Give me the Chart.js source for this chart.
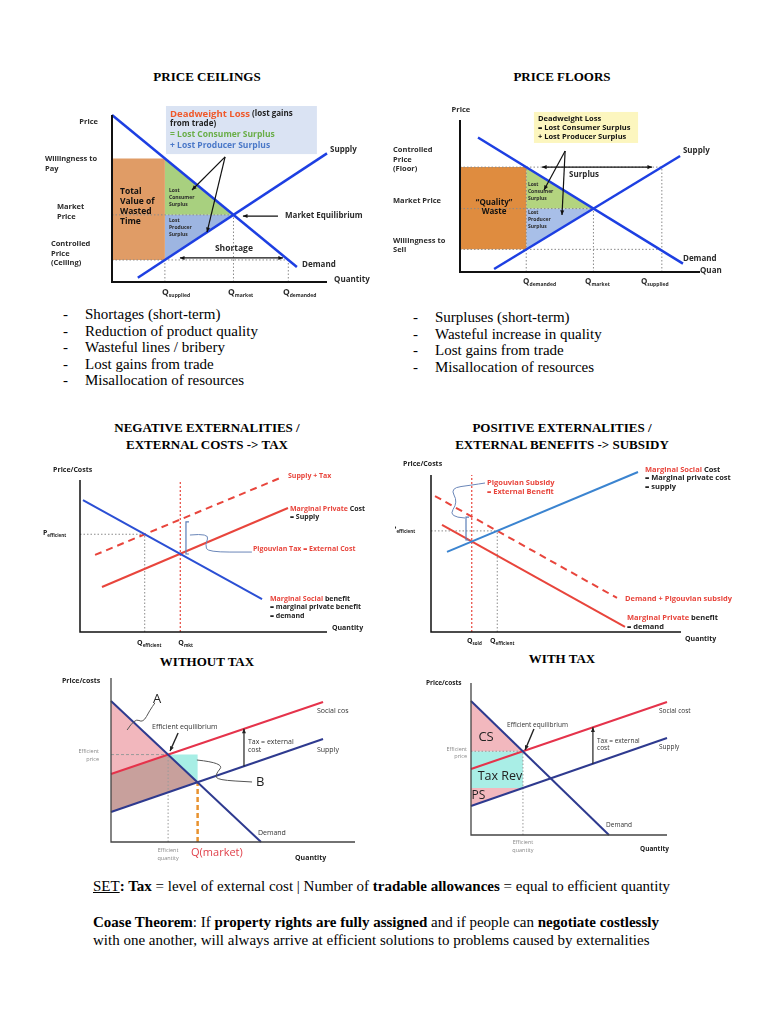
<!DOCTYPE html>
<html>
<head>
<meta charset="utf-8">
<title>Price controls and externalities</title>
<script src="https://cdn.jsdelivr.net/npm/chart.js@4.4.1/dist/chart.umd.min.js"></script>
<style>
  body { margin: 0; background: #fff; }
  #page { position: relative; width: 768px; height: 1024px; font-family: "Liberation Serif", serif; color: #000; }
  .h { position: absolute; width: 320px; text-align: center; font-weight: bold; font-size: 13px; line-height: 17px; }
  .list { position: absolute; font-size: 15px; line-height: 16.5px; margin: 0; padding: 0; list-style: none; }
  .list li { position: relative; padding-left: 22px; }
  .list li:before { content: '-'; position: absolute; left: 0; }
  .p { position: absolute; left: 93px; font-size: 15px; margin: 0; line-height: 18px; white-space: nowrap; }
  canvas { position: absolute; }
</style>
</head>
<body>
<div id="page">
  <div class="h" style="left:47px;top:68px">PRICE CEILINGS</div>
  <div class="h" style="left:402px;top:68px">PRICE FLOORS</div>

  <canvas id="ceil" width="332" height="200" style="left:40px;top:100px"></canvas>
  <canvas id="floor" width="332" height="197" style="left:390px;top:95px"></canvas>

  <ul class="list" style="left:63px;top:306px">
    <li>Shortages (short-term)</li>
    <li>Reduction of product quality</li>
    <li>Wasteful lines / bribery</li>
    <li>Lost gains from trade</li>
    <li>Misallocation of resources</li>
  </ul>
  <ul class="list" style="left:413px;top:309px">
    <li>Surpluses (short-term)</li>
    <li>Wasteful increase in quality</li>
    <li>Lost gains from trade</li>
    <li>Misallocation of resources</li>
  </ul>

  <div class="h" style="left:47px;top:419px">NEGATIVE EXTERNALITIES /<br>EXTERNAL COSTS -&gt; TAX</div>
  <div class="h" style="left:402px;top:419px">POSITIVE EXTERNALITIES /<br>EXTERNAL BENEFITS -&gt; SUBSIDY</div>

  <canvas id="neg" width="338" height="195" style="left:40px;top:455px"></canvas>
  <canvas id="pos" width="345" height="195" style="left:395px;top:455px"></canvas>

  <div class="h" style="left:47px;top:653px">WITHOUT TAX</div>
  <div class="h" style="left:402px;top:650px">WITH TAX</div>

  <canvas id="notax" width="315" height="197" style="left:55px;top:668px"></canvas>
  <canvas id="tax" width="290" height="190" style="left:410px;top:670px"></canvas>

  <p class="p" style="top:877px"><u>SET</u><b>: Tax</b> = level of external cost | Number of <b>tradable allowances</b> = equal to efficient quantity</p>
  <p class="p" style="top:913px"><b>Coase Theorem</b>: If <b>property rights are fully assigned</b> and if people can <b>negotiate costlessly</b><br>with one another, will always arrive at efficient solutions to problems caused by externalities</p>
</div>

<script>
// ---------- data (quantity / price units, 0..10 on each axis) ----------

// price ceiling
const ceilDemand = [{x: 0, y: 10}, {x: 8.6, y: 0.9}];
const ceilSupply = [{x: 1.2, y: 0.25}, {x: 10, y: 7.7}];
const ceilQty = [2.46, 5.65, 8.2];      // supplied, market, demanded
const ceilPrice = [1.32, 4.02, 7.4];    // ceiling, market, willingness to pay

// price floor
const floorDemand = [{x: 0.75, y: 8.85}, {x: 9.29, y: 0.55}];
const floorSupply = [{x: 1.42, y: 0.2}, {x: 9.17, y: 7.63}];
const floorQty = [2.76, 5.56, 8.41];    // demanded, market, supplied
const floorPrice = [1.49, 4.17, 6.9];   // willingness to sell, market, floor

// negative externality
const negDemand = [{x: 0.12, y: 8.68}, {x: 7.37, y: 2.17}];
const negSupply = [{x: 0.89, y: 2.96}, {x: 8.42, y: 8.16}];
const negSupplyTax = [{x: 0.61, y: 5.07}, {x: 8.1, y: 10.13}];
const negQty = [2.62, 4.06];            // efficient, market
const negPrice = [6.43, 5.15];

// positive externality
const posSupply = [{x: 0.64, y: 5.1}, {x: 8.28, y: 10.19}];
const posDemand = [{x: 0.44, y: 6.82}, {x: 7.76, y: 0.32}];
const posDemandSub = [{x: 0.16, y: 8.66}, {x: 7.44, y: 2.17}];
const posQty = [1.63, 2.65];            // sold, efficient
const posPrice = [5.76, 6.44];

// without tax
const noTaxDemand = [{x: 0, y: 8.6}, {x: 6.15, y: 0}];
const noTaxSocial = [{x: 0, y: 4.15}, {x: 8.69, y: 8.54}];
const noTaxSupply = [{x: 0, y: 1.83}, {x: 8.69, y: 6.28}];
const noTaxQty = [2.34, 3.55];          // efficient, market
const noTaxPrice = [5.33, 3.64];

// with tax
const taxDemand = [{x: 0, y: 8.82}, {x: 7.04, y: 0}];
const taxSocial = [{x: 0, y: 4.34}, {x: 10, y: 8.75}];
const taxSupply = [{x: 0, y: 1.91}, {x: 10, y: 6.38}];
const taxQty = [2.65, 4.07];            // efficient, market
const taxPrice = [5.51, 3.09];          // efficient price, supply price at efficient qty

// ---------- helpers ----------
const g = (size, bold) => (bold ? 'bold ' : '') + size + 'px "Open Sans", "DejaVu Sans", sans-serif';
const at = (l, x) => l[0].y + (l[1].y - l[0].y) * (x - l[0].x) / (l[1].x - l[0].x);
const pt = (x, y) => ({x, y});

function line(data, color, width, dash) {
  return {data, borderColor: color, borderWidth: width, borderDash: dash || [], pointRadius: 0,
          fill: false, clip: false, tension: 0, order: 0};
}
function guide(data, color, dash, width) {
  return {data, borderColor: color || '#8a8a8a', borderWidth: width || 1, borderDash: dash || [1.5, 2],
          pointRadius: 0, fill: false, clip: false, order: 1};
}
function area(data, color) {
  return {data, backgroundColor: color, borderColor: 'rgba(0,0,0,0)', borderWidth: 0, pointRadius: 0,
          fill: 'shape', clip: false, order: 3};
}
function sub(main, small, big, little) {
  return [[main, null, big], [small, null, little, 2.5]];
}

function head(ctx, x0, y0, x1, y1, s) {
  const a = Math.atan2(y1 - y0, x1 - x0);
  ctx.beginPath();
  ctx.moveTo(x1, y1);
  ctx.lineTo(x1 - s * Math.cos(a - 0.42), y1 - s * Math.sin(a - 0.42));
  ctx.lineTo(x1 - s * Math.cos(a + 0.42), y1 - s * Math.sin(a + 0.42));
  ctx.closePath();
  ctx.fill();
}

// draws axes, call-out boxes, arrows, braces, squiggles and labels in data units
const notes = {
  id: 'notes',
  afterDatasetsDraw(chart, args, o) {
    const {ctx, chartArea: a} = chart;
    const X = v => chart.scales.x.getPixelForValue(v);
    const Y = v => chart.scales.y.getPixelForValue(v);
    ctx.save();
    ctx.strokeStyle = o.axisColor || '#111';
    ctx.lineWidth = o.axisWidth || 1.5;
    ctx.beginPath();
    ctx.moveTo(a.left, a.top);
    ctx.lineTo(a.left, a.bottom);
    ctx.lineTo(a.right, a.bottom);
    ctx.stroke();

    (o.boxes || []).forEach(b => {
      const x0 = X(b.x0), y0 = Y(b.y1), w = X(b.x1) - x0, h = Y(b.y0) - y0;
      ctx.fillStyle = b.fill;
      ctx.fillRect(x0, y0, w, h);
      if (b.stroke) { ctx.strokeStyle = b.stroke; ctx.lineWidth = 1; ctx.strokeRect(x0, y0, w, h); }
    });
    (o.braces || []).forEach(b => {
      const x = X(b.x), y0 = Y(b.y0), y1 = Y(b.y1);
      ctx.strokeStyle = b.color; ctx.lineWidth = 1.2;
      ctx.beginPath();
      ctx.moveTo(x + 3, y0); ctx.lineTo(x, y0); ctx.lineTo(x, y1); ctx.lineTo(x + 3, y1);
      ctx.stroke();
    });
    (o.curves || []).forEach(c => {
      const p = c.pts.map(q => [X(q[0]), Y(q[1])]);
      ctx.strokeStyle = c.color; ctx.lineWidth = c.width || 1;
      ctx.beginPath();
      ctx.moveTo(p[0][0], p[0][1]);
      for (let i = 1; i < p.length - 1; i++) {
        ctx.quadraticCurveTo(p[i][0], p[i][1], (p[i][0] + p[i + 1][0]) / 2, (p[i][1] + p[i + 1][1]) / 2);
      }
      ctx.lineTo(p[p.length - 1][0], p[p.length - 1][1]);
      ctx.stroke();
    });
    (o.arrows || []).forEach(r => {
      const x0 = X(r.from[0]), y0 = Y(r.from[1]), x1 = X(r.to[0]), y1 = Y(r.to[1]);
      ctx.strokeStyle = ctx.fillStyle = r.color || '#111';
      ctx.lineWidth = r.width || 1.2;
      ctx.beginPath(); ctx.moveTo(x0, y0); ctx.lineTo(x1, y1); ctx.stroke();
      head(ctx, x0, y0, x1, y1, r.head || 5);
      if (r.both) head(ctx, x1, y1, x0, y0, r.head || 5);
    });

    ctx.textBaseline = 'middle';
    (o.texts || []).forEach(t => {
      const font = t.font || o.font, color = t.color || o.color;
      if (typeof t.t === 'string') {
        ctx.font = font; ctx.fillStyle = color; ctx.textAlign = t.align || 'left';
        t.t.split('\n').forEach((s, i) => ctx.fillText(s, X(t.x), Y(t.y) + i * (t.lh || o.lh || 10)));
        return;
      }
      ctx.textAlign = 'left';
      let w = 0;
      t.t.forEach(p => { ctx.font = p[2] || font; w += ctx.measureText(p[0]).width; });
      let x = X(t.x) - (t.align === 'center' ? w / 2 : t.align === 'right' ? w : 0);
      t.t.forEach(p => {
        ctx.font = p[2] || font; ctx.fillStyle = p[1] || color;
        ctx.fillText(p[0], x, Y(t.y) + (p[3] || 0));
        x += ctx.measureText(p[0]).width;
      });
    });
    ctx.restore();
  }
};
Chart.register(notes);

function draw(id, padding, datasets, opts) {
  return new Chart(document.getElementById(id), {
    type: 'line',
    data: {datasets},
    options: {
      responsive: false,
      animation: false,
      events: [],
      layout: {padding},
      scales: {
        x: {type: 'linear', min: 0, max: 10, display: false},
        y: {type: 'linear', min: 0, max: 10, display: false}
      },
      plugins: {legend: {display: false}, tooltip: {enabled: false}, notes: opts}
    }
  });
}

const BLUE = '#1d3fe2';
const RED = '#e8453c';
const NAVY = '#2e3a8f';
const PINKRED = '#e5334b';

// ---------- price ceilings ----------
{
  const [qs, qm, qd] = ceilQty, [pc, pm, wtp] = ceilPrice;
  const Qs = s => sub('Q', s, g(8.5, 1), g(5, 1));
  draw('ceil', {left: 72, top: 15, right: 45, bottom: 18}, [
    line(ceilDemand, BLUE, 2.5),
    line(ceilSupply, BLUE, 2.5),
    guide([pt(0, pm), pt(qm, pm)]),
    guide([pt(qm, 0), pt(qm, pm)]),
    guide([pt(0, pc), pt(qd, pc)]),
    guide([pt(qs, 0), pt(qs, pc)]),
    guide([pt(qd, 0), pt(qd, pc)]),
    area([pt(0, pc), pt(qs, pc), pt(qs, wtp), pt(0, wtp)], '#e09c66'),
    area([pt(qs, wtp), pt(qs, pm), pt(qm, pm)], '#a8d07f'),
    area([pt(qs, pm), pt(qs, pc), pt(qm, pm)], '#9db5e1')
  ], {
    axisColor: '#111', axisWidth: 2, font: g(7.5, 1), color: '#2b2b2b', lh: 10,
    boxes: [{x0: 2.51, y0: 7.66, x1: 9.53, y1: 10.54, fill: '#dae3f3'}],
    arrows: [
      {from: [5.26, 7.49], to: [3.72, 5.51]},
      {from: [5.26, 7.49], to: [4.42, 2.99]},
      {from: [7.72, 3.95], to: [6.09, 3.95]},
      {from: [3.16, 1.44], to: [7.95, 1.44], both: true}
    ],
    texts: [
      {t: 'Price', x: -0.65, y: 9.58, align: 'right'},
      {t: 'Willingness to\nPay', x: -3.12, y: 7.37},
      {t: 'Market\nPrice', x: -2.56, y: 4.49},
      {t: 'Controlled\nPrice\n(Ceiling)', x: -2.84, y: 2.28, lh: 9.5},
      {t: 'Total\nValue of\nWasted\nTime', x: 0.37, y: 5.39, font: g(8.5, 1), color: '#111', lh: 9.7},
      {t: 'Lost\nConsumer\nSurplus', x: 2.65, y: 5.45, font: g(5, 1), lh: 7},
      {t: 'Lost\nProducer\nSurplus', x: 2.65, y: 3.65, font: g(5, 1), lh: 7},
      {t: 'Shortage', x: 5.67, y: 1.98, align: 'center', font: g(8.5, 1)},
      {t: 'Market Equilibrium', x: 8.05, y: 3.95, font: g(8, 1)},
      {t: 'Supply', x: 10.14, y: 7.9, font: g(8, 1)},
      {t: 'Demand', x: 8.84, y: 1.02, font: g(8, 1)},
      {t: 'Quantity', x: 10.33, y: 0.12, font: g(8, 1)},
      {t: Qs('supplied'), x: 2.33, y: -0.66},
      {t: Qs('market'), x: 5.4, y: -0.66},
      {t: Qs('demanded'), x: 7.95, y: -0.66},
      {t: [['Deadweight Loss', '#f0592a', g(9.5, 1)], [' (lost gains', '#222', g(8, 1)]], x: 2.7, y: 10.06},
      {t: 'from trade)', x: 2.7, y: 9.46, font: g(8, 1), color: '#222'},
      {t: '= Lost Consumer Surplus', x: 2.7, y: 8.8, font: g(8.5, 1), color: '#6aae48'},
      {t: '+ Lost Producer Surplus', x: 2.7, y: 8.14, font: g(8.5, 1), color: '#4a78c8'}
    ]
  });
}

// ---------- price floors ----------
{
  const [qd, qm, qs] = floorQty, [wts, pm, pf] = floorPrice;
  const Qs = s => sub('Q', s, g(8, 1), g(5, 1));
  draw('floor', {left: 70, top: 25, right: 22, bottom: 20}, [
    line(floorDemand, BLUE, 2.5),
    line(floorSupply, BLUE, 2.5),
    guide([pt(0, pf), pt(qs, pf)]),
    guide([pt(0, pm), pt(qm, pm)]),
    guide([pt(0, wts), pt(qs, wts)]),
    guide([pt(qd, 0), pt(qd, pf)]),
    guide([pt(qm, 0), pt(qm, pm)]),
    guide([pt(qs, 0), pt(qs, pf)]),
    area([pt(0, wts), pt(qd, wts), pt(qd, pf), pt(0, pf)], '#df8c3f'),
    area([pt(qd, pf), pt(qd, pm), pt(qm, pm)], '#b3d47f'),
    area([pt(qd, pm), pt(qd, wts), pt(qm, pm)], '#a8bfe8')
  ], {
    axisColor: '#111', axisWidth: 2, font: g(7.5, 1), color: '#2b2b2b', lh: 9.5,
    boxes: [{x0: 3.08, y0: 8.49, x1: 7.42, y1: 10.53, fill: '#fcf6bf'}],
    arrows: [
      {from: [4.38, 7.96], to: [3.5, 5.39]},
      {from: [4.38, 7.96], to: [4.25, 3.75]},
      {from: [3.42, 6.9], to: [8.0, 6.9], both: true}
    ],
    texts: [
      {t: 'Price', x: 0.04, y: 10.66, align: 'center'},
      {t: 'Controlled\nPrice\n(Floor)', x: -2.79, y: 8.03},
      {t: 'Market Price', x: -2.79, y: 4.67},
      {t: 'Willingness to\nSell', x: -2.79, y: 2.04, lh: 9},
      {t: '“Quality”\nWaste', x: 1.42, y: 4.54, align: 'center', font: g(8, 1), color: '#111', lh: 9},
      {t: 'Lost\nConsumer\nSurplus', x: 2.83, y: 5.72, font: g(5, 1), lh: 7},
      {t: 'Lost\nProducer\nSurplus', x: 2.83, y: 3.88, font: g(5, 1), lh: 7},
      {t: 'Surplus', x: 5.17, y: 6.38, align: 'center', font: g(8, 1)},
      {t: 'Deadweight Loss\n= Lost Consumer Surplus\n+ Lost Producer Surplus', x: 3.25, y: 10.07,
       font: g(7.5, 1), color: '#111', lh: 9},
      {t: 'Supply', x: 9.29, y: 7.96, font: g(8, 1)},
      {t: 'Demand', x: 9.29, y: 0.86, font: g(8, 1)},
      {t: 'Quantity', x: 10.0, y: 0.07, font: g(8, 1)},
      {t: Qs('demanded'), x: 2.63, y: -0.66},
      {t: Qs('market'), x: 5.21, y: -0.66},
      {t: Qs('supplied'), x: 7.54, y: -0.66}
    ]
  });
}

// ---------- negative externalities ----------
{
  const [qe, qm] = negQty, [pe] = negPrice;
  const Qs = s => sub('Q', s, g(7, 1), g(4.5, 1));
  draw('neg', {left: 40, top: 25, right: 51, bottom: 18}, [
    line(negDemand, '#2b4fd4', 2),
    line(negSupply, RED, 2),
    line(negSupplyTax, RED, 2, [7, 5]),
    guide([pt(qm, 0), pt(qm, 10)], RED, [2, 2], 1.2),
    guide([pt(0, pe), pt(qe, pe)]),
    guide([pt(qe, 0), pt(qe, pe)])
  ], {
    axisColor: '#111', axisWidth: 1.5, font: g(7, 1), color: '#222', lh: 8.5,
    braces: [{x: 4.29, y0: 7.24, y1: 5.13, color: '#5b7fb8'}],
    curves: [{pts: [[4.45, 6.38], [5.26, 6.51], [5.06, 5.72], [5.18, 5.26], [6.96, 5.26]], color: '#6a86b8'}],
    texts: [
      {t: 'Price/Costs', x: -1.09, y: 10.66},
      {t: 'Supply + Tax', x: 8.42, y: 10.26, color: RED},
      {t: [['Marginal Private', RED], [' Cost']], x: 8.5, y: 8.09},
      {t: '= Supply', x: 8.5, y: 7.57},
      {t: 'Pigouvian Tax = External Cost', x: 7.0, y: 5.46, color: RED},
      {t: [['Marginal Social', RED], [' benefit']], x: 7.69, y: 2.17},
      {t: '= marginal private benefit\n= demand', x: 7.69, y: 1.64},
      {t: 'Quantity', x: 10.2, y: 0.26},
      {t: sub('P', 'efficient', g(7, 1), g(4.5, 1)), x: -1.5, y: 6.51},
      {t: Qs('efficient'), x: 2.31, y: -0.72},
      {t: Qs('mkt'), x: 3.98, y: -0.72}
    ]
  });
}

// ---------- positive externalities ----------
{
  const [qs, qe] = posQty, [, pe] = posPrice;
  const Qs = s => sub('Q', s, g(7, 1), g(4.5, 1));
  draw('pos', {left: 36, top: 20, right: 59, bottom: 18}, [
    line(posSupply, '#3b84d0', 2),
    line(posDemand, RED, 2),
    line(posDemandSub, RED, 2, [7, 5]),
    guide([pt(qs, 0), pt(qs, 10)], RED, [2, 2], 1.2),
    guide([pt(0, pe), pt(qe, pe)]),
    guide([pt(qe, 0), pt(qe, pe)])
  ], {
    axisColor: '#111', axisWidth: 1.5, font: g(7.5, 1), color: '#222', lh: 8.5,
    braces: [{x: 1.4, y0: 7.32, y1: 5.86, color: '#5b7fb8'}],
    curves: [{pts: [[1.36, 7.26], [0.68, 7.32], [1.08, 8.28], [0.76, 9.17], [1.64, 9.36], [2.16, 9.49]], color: '#6a86b8'}],
    texts: [
      {t: 'Price/Costs', x: -1.12, y: 10.7, font: g(7, 1)},
      {t: [['Marginal Social', RED], [' Cost']], x: 8.56, y: 10.32},
      {t: '= Marginal private cost\n= supply', x: 8.56, y: 9.81},
      {t: 'Pigouvian Subsidy\n= External Benefit', x: 2.24, y: 9.49, color: RED, lh: 9},
      {t: 'Demand + Pigouvian subsidy', x: 7.76, y: 2.1, color: RED},
      {t: [['Marginal Private', RED], [' benefit']], x: 7.84, y: 0.89},
      {t: '= demand', x: 7.84, y: 0.32},
      {t: 'Quantity', x: 10.16, y: -0.45, font: g(7, 1)},
      {t: sub('P', 'efficient', g(7, 1), g(4.5, 1)), x: -1.56, y: 6.56},
      {t: Qs('sold'), x: 1.44, y: -0.57},
      {t: Qs('efficient'), x: 2.36, y: -0.57}
    ]
  });
}

// ---------- without tax ----------
{
  const [qe, qm] = noTaxQty, [pe, pm] = noTaxPrice;
  draw('notax', {left: 56, top: 10, right: 15, bottom: 23}, [
    line(noTaxDemand, NAVY, 2),
    line(noTaxSocial, PINKRED, 2),
    line(noTaxSupply, NAVY, 2),
    guide([pt(0, pe), pt(qe, pe)], '#999', [3, 2]),
    guide([pt(qe, 0), pt(qe, pe)], '#999', [1.5, 2]),
    guide([pt(qm, 0), pt(qm, pm)], '#e8922e', [5, 3], 2.5),
    area([pt(0, 8.6), pt(qe, pe), pt(0, 4.15)], '#f2b7bd'),
    area([pt(0, 4.15), pt(qe, pe), pt(qm, pm), pt(0, 1.83)], '#c8a09c'),
    area([pt(qe, pe), pt(qm, pe), pt(qm, pm)], '#a7eee5')
  ], {
    axisColor: '#444', axisWidth: 1.3, font: g(7, 0), color: '#333', lh: 8,
    arrows: [
      {from: [2.75, 6.65], to: [2.42, 5.55], width: 1.4, color: '#222'},
      {from: [5.45, at(noTaxSupply, 5.45)], to: [5.45, at(noTaxSocial, 5.45)], color: '#222'}
    ],
    curves: [
      {pts: [[0.66, 6.83], [0.98, 7.56], [1.31, 7.26], [1.6, 8.05], [1.8, 8.48]], color: '#555'},
      {pts: [[3.52, 5.0], [4.67, 4.82], [4.26, 4.09], [4.39, 3.78], [5.78, 3.66]], color: '#555'}
    ],
    texts: [
      {t: 'Price/costs', x: -2.01, y: 9.82, font: g(7, 1), color: '#222'},
      {t: 'A', x: 1.89, y: 8.72, align: 'center', font: g(13, 0), color: '#222'},
      {t: 'Efficient equilibrium', x: 1.68, y: 7.01},
      {t: 'Efficient\nprice', x: -0.49, y: 5.55, align: 'right', font: g(5.5, 0), color: '#888'},
      {t: 'Tax = external\ncost', x: 5.61, y: 6.1},
      {t: 'Social cos', x: 8.44, y: 7.99},
      {t: 'Supply', x: 8.44, y: 5.61},
      {t: 'B', x: 6.11, y: 3.66, align: 'center', font: g(13, 0), color: '#222'},
      {t: 'Demand', x: 6.02, y: 0.55},
      {t: 'Efficient\nquantity', x: 2.34, y: -0.49, align: 'center', font: g(5.5, 0), color: '#888'},
      {t: 'Q(market)', x: 4.34, y: -0.67, align: 'center', font: g(11, 0), color: '#e0404a'},
      {t: 'Quantity', x: 7.54, y: -0.98, font: g(7, 1), color: '#222'}
    ]
  });
}

// ---------- with tax ----------
{
  const [qe] = taxQty, [pe, ps] = taxPrice;
  draw('tax', {left: 61, top: 13, right: 33, bottom: 25}, [
    line(taxDemand, NAVY, 2),
    line(taxSocial, PINKRED, 2),
    line(taxSupply, NAVY, 2),
    guide([pt(0, pe), pt(qe, pe)], '#999', [1.5, 2]),
    guide([pt(qe, 0), pt(qe, pe)], '#999', [1.5, 2]),
    area([pt(0, 8.82), pt(qe, pe), pt(0, pe)], '#f2b8be'),
    area([pt(0, pe), pt(qe, pe), pt(qe, ps), pt(0, ps)], '#a9eee6'),
    area([pt(0, ps), pt(qe, ps), pt(0, 1.91)], '#f2b8be')
  ], {
    axisColor: '#444', axisWidth: 1.3, font: g(6.5, 0), color: '#333', lh: 7.5,
    arrows: [
      {from: [3.21, 6.97], to: [2.76, 5.59], width: 1.4, color: '#222'},
      {from: [6.22, at(taxSupply, 6.22)], to: [6.22, at(taxSocial, 6.22)], color: '#222'}
    ],
    texts: [
      {t: 'Price/costs', x: -2.3, y: 10.0, font: g(6.5, 1), color: '#222'},
      {t: 'CS', x: 0.77, y: 6.45, align: 'center', font: g(13, 0), color: '#222'},
      {t: 'Tax Rev', x: 1.48, y: 3.88, align: 'center', font: g(12.5, 0), color: '#222'},
      {t: 'PS', x: 0.38, y: 2.57, align: 'center', font: g(12, 0), color: '#222'},
      {t: 'Efficient equilibrium', x: 1.84, y: 7.24},
      {t: 'Tax = external\ncost', x: 6.43, y: 6.18},
      {t: 'Social cost', x: 9.59, y: 8.16},
      {t: 'Supply', x: 9.59, y: 5.79},
      {t: 'Demand', x: 6.89, y: 0.66},
      {t: 'Efficient\nprice', x: -0.2, y: 5.66, align: 'right', font: g(5.5, 0), color: '#888'},
      {t: 'Efficient\nquantity', x: 2.65, y: -0.46, align: 'center', font: g(5.5, 0), color: '#888', lh: 8},
      {t: 'Quantity', x: 8.62, y: -0.92, font: g(6.5, 1), color: '#222'}
    ]
  });
}
</script>
</body>
</html>
